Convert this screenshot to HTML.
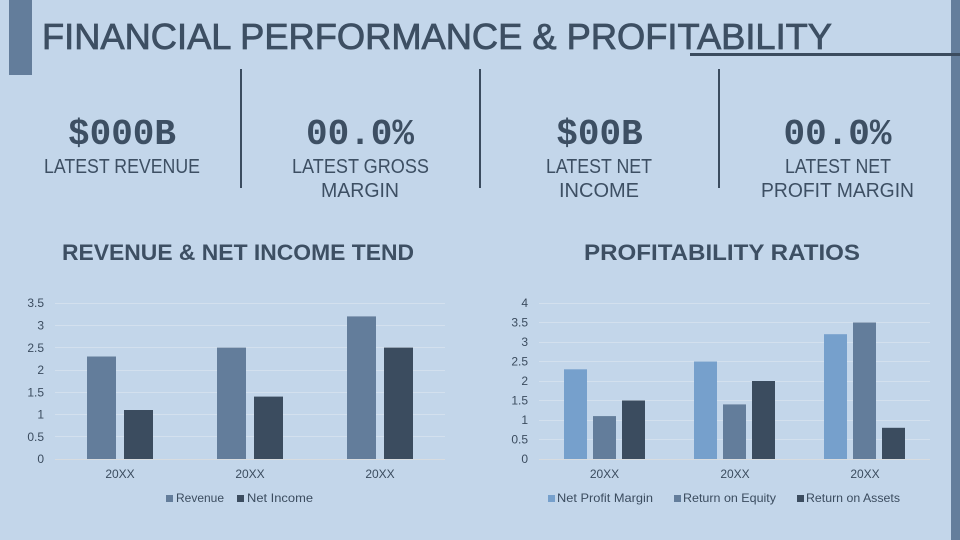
<!DOCTYPE html>
<html>
<head>
<meta charset="utf-8">
<style>
  html,body{margin:0;padding:0;background:#C3D6EA;}
  svg{display:block;}
  text{font-family:"Liberation Sans",sans-serif;}
  .mono{font-family:"Liberation Mono",monospace;}
</style>
</head>
<body>
<svg width="960" height="540" viewBox="0 0 960 540" xmlns="http://www.w3.org/2000/svg">
  <rect x="0" y="0" width="960" height="540" fill="#C3D6EA"/>
  <!-- accents -->
  <rect x="9" y="0" width="23" height="75" fill="#637D9B"/>
  <rect x="951" y="0" width="9" height="540" fill="#647E9C"/>
  <!-- title -->
  <text x="42" y="49" font-size="36" fill="#3D4F63" stroke="#3D4F63" stroke-width="0.8" textLength="790" lengthAdjust="spacingAndGlyphs">FINANCIAL PERFORMANCE &amp; PROFITABILITY</text>
  <rect x="690" y="53" width="270" height="3" fill="#3B4C5F"/>

  <!-- dividers -->
  <rect x="240" y="69" width="2" height="119" fill="#3B4C5F"/>
  <rect x="479" y="69" width="2" height="119" fill="#3B4C5F"/>
  <rect x="718" y="69" width="2" height="119" fill="#3B4C5F"/>

  <!-- KPIs -->
  <g fill="#3D4F63">
    <text class="mono" x="122" y="144" font-size="36" font-weight="bold" text-anchor="middle">$000B</text>
    <text class="mono" x="360" y="144" font-size="36" font-weight="bold" text-anchor="middle">00.0%</text>
    <text class="mono" x="599.5" y="144" font-size="36" font-weight="bold" text-anchor="middle">$00B</text>
    <text class="mono" x="837.5" y="144" font-size="36" font-weight="bold" text-anchor="middle">00.0%</text>

    <text x="44" y="173" font-size="20" textLength="156" lengthAdjust="spacingAndGlyphs">LATEST REVENUE</text>
    <text x="292" y="173" font-size="20" textLength="137" lengthAdjust="spacingAndGlyphs">LATEST GROSS</text>
    <text x="321" y="197" font-size="20" textLength="78" lengthAdjust="spacingAndGlyphs">MARGIN</text>
    <text x="546" y="173" font-size="20" textLength="106" lengthAdjust="spacingAndGlyphs">LATEST NET</text>
    <text x="559" y="197" font-size="20" textLength="80" lengthAdjust="spacingAndGlyphs">INCOME</text>
    <text x="785" y="173" font-size="20" textLength="106" lengthAdjust="spacingAndGlyphs">LATEST NET</text>
    <text x="761" y="197" font-size="20" textLength="153" lengthAdjust="spacingAndGlyphs">PROFIT MARGIN</text>

    <text x="62" y="260" font-size="22" font-weight="bold" textLength="352" lengthAdjust="spacingAndGlyphs">REVENUE &amp; NET INCOME TEND</text>
    <text x="584" y="260" font-size="22" font-weight="bold" textLength="276" lengthAdjust="spacingAndGlyphs">PROFITABILITY RATIOS</text>
  </g>

  <!-- Chart 1 -->
  <g stroke="#D3E0EE" stroke-width="1">
    <line x1="55" x2="445" y1="303.5" y2="303.5"/>
    <line x1="55" x2="445" y1="325.5" y2="325.5"/>
    <line x1="55" x2="445" y1="347.5" y2="347.5"/>
    <line x1="55" x2="445" y1="370.5" y2="370.5"/>
    <line x1="55" x2="445" y1="392.5" y2="392.5"/>
    <line x1="55" x2="445" y1="414.5" y2="414.5"/>
    <line x1="55" x2="445" y1="436.5" y2="436.5"/>
  </g>
  <line x1="55" x2="445" y1="459.5" y2="459.5" stroke="#D8DCE0" stroke-width="1"/>
  <g font-size="12" fill="#3B4C5F" text-anchor="end">
    <text x="44" y="307">3.5</text>
    <text x="44" y="329.5">3</text>
    <text x="44" y="352">2.5</text>
    <text x="44" y="374">2</text>
    <text x="44" y="396.5">1.5</text>
    <text x="44" y="418.5">1</text>
    <text x="44" y="441">0.5</text>
    <text x="44" y="463">0</text>
  </g>
  <rect x="87" y="356.5" width="29" height="102.5" fill="#637D9B"/>
  <rect x="124" y="410" width="29" height="49" fill="#3B4C5F"/>
  <rect x="217" y="347.6" width="29" height="111.4" fill="#637D9B"/>
  <rect x="254" y="396.6" width="29" height="62.4" fill="#3B4C5F"/>
  <rect x="347" y="316.4" width="29" height="142.6" fill="#637D9B"/>
  <rect x="384" y="347.6" width="29" height="111.4" fill="#3B4C5F"/>
  <g font-size="12" fill="#3B4C5F" text-anchor="middle">
    <text x="120" y="478">20XX</text>
    <text x="250" y="478">20XX</text>
    <text x="380" y="478">20XX</text>
  </g>
  <rect x="166" y="495" width="7" height="7" fill="#637D9B"/>
  <text x="176" y="502" font-size="12" fill="#3B4C5F" textLength="48" lengthAdjust="spacingAndGlyphs">Revenue</text>
  <rect x="237" y="495" width="7" height="7" fill="#3B4C5F"/>
  <text x="247" y="502" font-size="12" fill="#3B4C5F" textLength="66" lengthAdjust="spacingAndGlyphs">Net Income</text>

  <!-- Chart 2 -->
  <g stroke="#D3E0EE" stroke-width="1">
    <line x1="539" x2="930" y1="303.5" y2="303.5"/>
    <line x1="539" x2="930" y1="322.5" y2="322.5"/>
    <line x1="539" x2="930" y1="342.5" y2="342.5"/>
    <line x1="539" x2="930" y1="361.5" y2="361.5"/>
    <line x1="539" x2="930" y1="381.5" y2="381.5"/>
    <line x1="539" x2="930" y1="400.5" y2="400.5"/>
    <line x1="539" x2="930" y1="420.5" y2="420.5"/>
    <line x1="539" x2="930" y1="439.5" y2="439.5"/>
  </g>
  <line x1="539" x2="930" y1="459.5" y2="459.5" stroke="#D8DCE0" stroke-width="1"/>
  <g font-size="12" fill="#3B4C5F" text-anchor="end">
    <text x="528" y="307">4</text>
    <text x="528" y="326.5">3.5</text>
    <text x="528" y="346">3</text>
    <text x="528" y="365.5">2.5</text>
    <text x="528" y="385">2</text>
    <text x="528" y="404.5">1.5</text>
    <text x="528" y="424">1</text>
    <text x="528" y="443.5">0.5</text>
    <text x="528" y="463">0</text>
  </g>
  <rect x="564" y="369.3" width="23" height="89.7" fill="#76A0CC"/>
  <rect x="593" y="416.1" width="23" height="42.9" fill="#637D9B"/>
  <rect x="622" y="400.5" width="23" height="58.5" fill="#3B4C5F"/>
  <rect x="694" y="361.5" width="23" height="97.5" fill="#76A0CC"/>
  <rect x="723" y="404.4" width="23" height="54.6" fill="#637D9B"/>
  <rect x="752" y="381" width="23" height="78" fill="#3B4C5F"/>
  <rect x="824" y="334.2" width="23" height="124.8" fill="#76A0CC"/>
  <rect x="853" y="322.5" width="23" height="136.5" fill="#637D9B"/>
  <rect x="882" y="427.8" width="23" height="31.2" fill="#3B4C5F"/>
  <g font-size="12" fill="#3B4C5F" text-anchor="middle">
    <text x="604.5" y="478">20XX</text>
    <text x="735" y="478">20XX</text>
    <text x="865" y="478">20XX</text>
  </g>
  <rect x="548" y="495" width="7" height="7" fill="#76A0CC"/>
  <text x="557" y="502" font-size="12" fill="#3B4C5F" textLength="96" lengthAdjust="spacingAndGlyphs">Net Profit Margin</text>
  <rect x="674" y="495" width="7" height="7" fill="#637D9B"/>
  <text x="683" y="502" font-size="12" fill="#3B4C5F" textLength="93" lengthAdjust="spacingAndGlyphs">Return on Equity</text>
  <rect x="797" y="495" width="7" height="7" fill="#3B4C5F"/>
  <text x="806" y="502" font-size="12" fill="#3B4C5F" textLength="94" lengthAdjust="spacingAndGlyphs">Return on Assets</text>
</svg>
</body>
</html>
